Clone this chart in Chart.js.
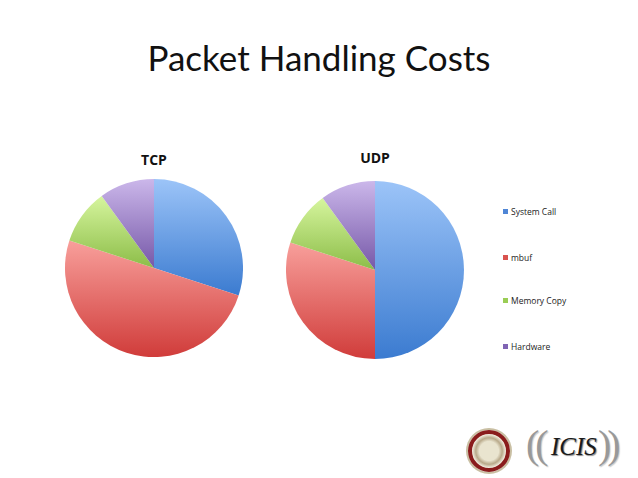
<!DOCTYPE html>
<html>
<head>
<meta charset="utf-8">
<script src="https://cdn.jsdelivr.net/npm/chart.js@4"></script>
<style>
  html,body{margin:0;padding:0;background:#fff;}
  #stage{position:relative;width:638px;height:478px;overflow:hidden;background:#fff;font-family:Lato,"Open Sans",sans-serif;}
  #title{position:absolute;left:0;width:638px;top:36px;text-align:center;font-size:35px;color:#111;font-family:Lato,sans-serif;}
  .sub{position:absolute;width:100px;text-align:center;font-weight:bold;font-size:14px;color:#111;font-family:"Open Sans",sans-serif;}
  .pie{position:absolute;width:178px;height:178px;}
  #legend{position:absolute;left:503px;top:206px;font-family:"Open Sans",sans-serif;font-size:8.5px;color:#222;}
  .li{position:absolute;white-space:nowrap;}
  .sw{display:inline-block;width:5px;height:5px;margin-right:3px;vertical-align:1px;}
  #seal{position:absolute;left:468px;top:430px;width:34px;height:34px;border-radius:50%;border:4px solid #8a1c1c;background:radial-gradient(circle,#e9e4cf 0 40%,#b8a98a 55%,#f4efe2 70%);box-shadow:0 0 0 2px #c9bfa3;}
  .par{position:absolute;font-family:"Liberation Serif",serif;font-size:40px;color:#999;top:421px;letter-spacing:-4px;text-shadow:1px 1px 1px #ccc;}
  #icis{position:absolute;left:551px;top:433px;font-family:"Liberation Serif",serif;font-style:italic;font-size:25px;color:#1a1a1a;text-shadow:1px 1px 1px #888;}
</style>
</head>
<body>
<div id="stage">
  <div id="title">Packet Handling Costs</div>
  <div class="sub" style="left:104px;top:150px;">TCP</div>
  <div class="sub" style="left:325px;top:148px;">UDP</div>
  <div class="pie" style="left:65px;top:179px;"><canvas id="c1"></canvas></div>
  <div class="pie" style="left:286px;top:181px;"><canvas id="c2"></canvas></div>
  <div id="legend"></div>
  <div id="seal"></div>
  <div class="par" style="left:526px;">((</div>
  <div id="icis">ICIS</div>
  <div class="par" style="left:598px;">))</div>
</div>
<script>
const categories = ["System Call", "mbuf", "Memory Copy", "Hardware"];
const tcpValues = [30, 50, 10, 10];
const udpValues = [50, 30, 10, 10];
const chartTitles = ["TCP", "UDP"];
const lightColors = ["#9cc4f8", "#f89f9b", "#d6f59e", "#cbb7ea"];
const darkColors  = ["#3b7bd0", "#d03c3a", "#8cbd48", "#7658a8"];
const legendColors = ["#4f86d6", "#d9534f", "#9acd55", "#8064b4"];

function sliceFill(ctx) {
  const chart = ctx.chart;
  const area = chart.chartArea;
  const i = ctx.dataIndex;
  if (!area || ctx.type !== 'data') return lightColors[i];
  const vals = ctx.dataset.data;
  const total = vals.reduce((a, b) => a + b, 0);
  let start = 0;
  for (let k = 0; k < i; k++) start += vals[k] / total * 360;
  const end = start + vals[i] / total * 360;
  const cx = (area.left + area.right) / 2, cy = (area.top + area.bottom) / 2;
  const r = Math.min(area.right - area.left, area.bottom - area.top) / 2;
  const ys = [cy, cy - r * Math.cos(start * Math.PI / 180), cy - r * Math.cos(end * Math.PI / 180)];
  if (start <= 0.001 || end >= 359.999) ys.push(cy - r);
  if (start <= 180 && end >= 180) ys.push(cy + r);
  const y0 = Math.min(...ys), y1 = Math.max(...ys);
  const g = chart.ctx.createLinearGradient(0, y0, 0, y1);
  g.addColorStop(0, lightColors[i]);
  g.addColorStop(1, darkColors[i]);
  return g;
}

function makePie(id, values) {
  return new Chart(document.getElementById(id), {
    type: 'pie',
    data: { labels: categories, datasets: [{ data: values, backgroundColor: sliceFill, borderWidth: 0 }] },
    options: {
      responsive: true, maintainAspectRatio: false, animation: false,
      layout: { padding: 0 },
      plugins: { legend: { display: false }, tooltip: { enabled: false }, title: { display: false } }
    }
  });
}
makePie('c1', tcpValues);
makePie('c2', udpValues);

const legendTops = [0, 46, 89, 135];
const lg = document.getElementById('legend');
categories.forEach((c, i) => {
  const d = document.createElement('div');
  d.className = 'li';
  d.style.top = legendTops[i] + 'px';
  d.innerHTML = '<span class="sw" style="background:' + legendColors[i] + '"></span>' + c;
  lg.appendChild(d);
});
</script>
</body>
</html>
